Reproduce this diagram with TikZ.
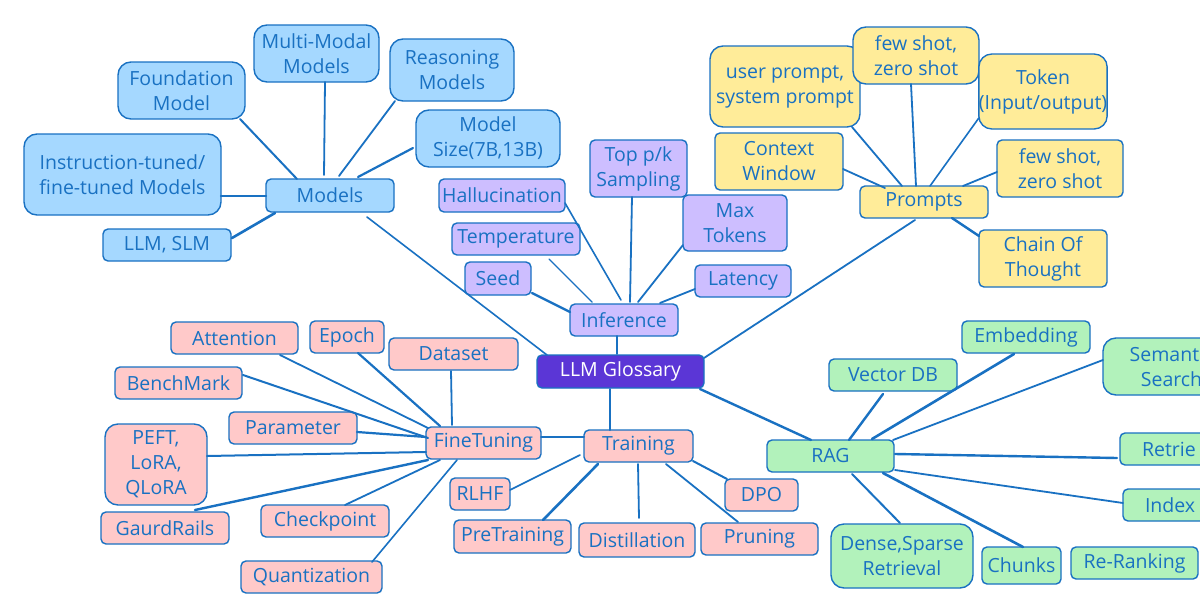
\documentclass[tikz,border=0pt]{standalone}
\usepackage{fontspec}
\setmainfont{Open Sans}
\definecolor{inkblue}{HTML}{1971C2}
\definecolor{fblue}{HTML}{A5D8FF}
\definecolor{fpurple}{HTML}{CDBEFF}
\definecolor{fyellow}{HTML}{FFEC99}
\definecolor{fred}{HTML}{FFC9C9}
\definecolor{fgreen}{HTML}{B2F2BB}
\definecolor{fcore}{HTML}{5B36D6}
\tikzset{
  box/.style={draw=inkblue,line width=1.4pt,rounded corners=5pt,align=center,inner sep=0pt,outer sep=0pt,
    text=inkblue,font=\fontsize{19.5}{25}\selectfont},
  big/.style={rounded corners=13pt},
  bluebox/.style={box,fill=fblue},
  purplebox/.style={box,fill=fpurple},
  yellowbox/.style={box,fill=fyellow},
  redbox/.style={box,fill=fred},
  greenbox/.style={box,fill=fgreen},
  corebox/.style={box,fill=fcore,text=white},
  link/.style={draw=inkblue,line cap=round},
}
\newcommand{\bx}[7][]{%  name x1 y1 x2 y2 style text
  \pgfmathsetmacro{\cxx}{(#3+#5)/2}\pgfmathsetmacro{\cyy}{(#4+#6)/2}%
  \pgfmathsetmacro{\www}{#5-#3}\pgfmathsetmacro{\hhh}{#6-#4}%
  \node[#1,minimum width=\www pt,minimum height=\hhh pt] (#2) at (\cxx,\cyy) {#7};}
\newcommand{\lnk}[5]{\draw[link,line width=#1pt] ([shift={(#3)}]#2.north west) -- ([shift={(#5)}]#4.north west);}
\begin{document}
\begin{tikzpicture}[x=1pt,y=-1pt]
\useasboundingbox (0,0) rectangle (1200,600);
\clip (0,0) rectangle (1200,600);
\fill[white] (0,0) rectangle (1200,600);
% models
\bx[bluebox,big]{multi}{254}{25}{379}{82}{Multi-Modal\\Models}
\bx[bluebox,big]{foundation}{118}{62}{245}{119}{Foundation\\Model}
\bx[bluebox,big]{reasoning}{390}{39}{514}{101}{Reasoning\\Models}
\bx[bluebox,big]{msize}{416}{110}{560}{167}{Model\\Size(7B,13B)}
\bx[bluebox,big]{instr}{24}{134}{221}{215}{Instruction-tuned/\\fine-tuned Models}
\bx[bluebox]{models}{266}{179}{394}{212}{Models}
\bx[bluebox]{llm}{103}{229}{231}{261}{LLM, SLM}
% inference
\bx[purplebox]{hall}{439}{179}{565}{212}{Hallucination}
\bx[purplebox]{temp}{452}{223}{580}{255}{Temperature}
\bx[purplebox]{seed}{465}{262}{531}{295}{Seed}
\bx[purplebox]{topk}{590}{140}{687}{197}{Top p/k\\Sampling}
\bx[purplebox]{maxt}{683}{195}{787}{251}{Max\\Tokens}
\bx[purplebox]{lat}{695}{265}{791}{297}{Latency}
\bx[purplebox]{inf}{570}{304}{678}{336}{Inference}
% core
\bx[corebox]{gloss}{537}{355}{704}{388}{LLM Glossary}
% prompts
\bx[yellowbox]{prompts}{860}{186}{988}{218}{Prompts}
\bx[yellowbox,big]{user}{710}{46}{860}{127}{user prompt,\\system prompt}
\bx[yellowbox,big]{fewa}{853}{27}{979}{84}{few shot,\\zero shot}
\bx[yellowbox,big]{token}{979}{54}{1107}{129}{Token\\(Input/output)}
\bx[yellowbox]{context}{715}{133}{843}{190}{Context\\Window}
\bx[yellowbox]{fewb}{997}{140}{1123}{197}{few shot,\\zero shot}
\bx[yellowbox]{chain}{979}{230}{1107}{287}{Chain Of\\Thought}
% rag
\bx[greenbox]{rag}{767}{440}{894}{472}{RAG}
\bx[greenbox]{vec}{829}{359}{957}{391}{Vector DB}
\bx[greenbox]{emb}{962}{321}{1090}{353}{Embedding}
\bx[greenbox,big]{sem}{1103}{338}{1240}{395}{Semantic\\Search}
\bx[greenbox,anchor=center]{retr}{1120}{433}{1240}{465}{\makebox[120pt][l]{\hspace{22pt}Retrie}}
\bx[greenbox]{index}{1123}{489}{1240}{521}{\makebox[117pt][l]{\hspace{22pt}Index}}
\bx[greenbox,big]{dense}{831}{524}{973}{588}{Dense,Sparse\\Retrieval}
\bx[greenbox]{chunks}{982}{547}{1061}{584}{Chunks}
\bx[greenbox]{rerank}{1071}{547}{1198}{579}{Re-Ranking}
% training
\bx[redbox]{training}{584}{430}{693}{462}{Training}
\bx[redbox]{dpo}{725}{479}{798}{511}{DPO}
\bx[redbox]{prun}{701}{523}{818}{555}{Pruning}
\bx[redbox]{dist}{579}{523}{695}{557}{Distillation}
\bx[redbox]{pre}{454}{520}{571}{553}{PreTraining}
\bx[redbox]{rlhf}{450}{478}{510}{510}{RLHF}
% fine tuning
\bx[redbox]{fine}{426}{427}{541}{459}{FineTuning}
\bx[redbox]{data}{389}{338}{518}{370}{Dataset}
\bx[redbox]{epoch}{310}{321}{384}{353}{Epoch}
\bx[redbox]{att}{171}{322}{298}{354}{Attention}
\bx[redbox]{bench}{115}{367}{242}{399}{BenchMark}
\bx[redbox]{param}{229}{412}{357}{444}{Parameter}
\bx[redbox,big]{peft}{105}{424}{207}{505}{PEFT,\\LoRA,\\QLoRA}
\bx[redbox]{gaurd}{101}{512}{229}{544}{GaurdRails}
\bx[redbox]{check}{261}{505}{389}{537}{Checkpoint}
\bx[redbox]{quant}{241}{561}{382}{593}{Quantization}
% connectors
\lnk{2}{foundation}{122,57}{models}{31,0}
\lnk{1.8}{multi}{71,57}{models}{58,-4}
\lnk{1.8}{reasoning}{5,62}{models}{73,-3}
\lnk{2.2}{msize}{-3,38}{models}{92,-2}
\lnk{2.4}{instr}{197,62}{models}{0,17}
\lnk{2.6}{llm}{129,9}{models}{9,34}
\lnk{1.6}{models}{101,38}{gloss}{10,0}
\lnk{1.6}{hall}{126,24}{inf}{51,-4}
\lnk{1.4}{temp}{97,36}{inf}{22,-2}
\lnk{2.4}{seed}{67,31}{inf}{0,8}
\lnk{1.8}{topk}{42,57}{inf}{60,-2}
\lnk{1.8}{maxt}{0,50}{inf}{68,-2}
\lnk{1.8}{lat}{0,24}{inf}{90,-1}
\lnk{1.8}{inf}{47,32}{gloss}{80,-1}
\lnk{1.8}{user}{142,81}{prompts}{42,0}
\lnk{1.8}{fewa}{58,57}{prompts}{56,0}
\lnk{1.6}{token}{0,64}{prompts}{70,0}
\lnk{1.8}{context}{128,36}{prompts}{25,2}
\lnk{1.8}{fewb}{0,32}{prompts}{103,0}
\lnk{2.4}{chain}{0,6}{prompts}{92,32}
\lnk{1.8}{prompts}{55,34}{gloss}{167,3}
\lnk{2.4}{gloss}{163,34}{rag}{44,0}
\lnk{2}{gloss}{73,34}{training}{26,0}
\lnk{2}{fine}{115,10}{training}{0,7}
\lnk{2.4}{vec}{54,35}{rag}{82,0}
\lnk{2.6}{emb}{52,33}{rag}{105,-1}
\lnk{1.8}{sem}{0,22}{rag}{126,0}
\lnk{2.4}{retr}{-3,25}{rag}{128,14}
\lnk{1.8}{index}{0,14}{rag}{128,30}
\lnk{2}{dense}{69,-1}{rag}{85,34}
\lnk{2.6}{chunks}{41,0}{rag}{116,33}
\lnk{2}{dpo}{2,0}{training}{109,31}
\lnk{1.8}{prun}{37,-1}{training}{82,34}
\lnk{1.8}{dist}{60,-5}{training}{54,34}
\lnk{2.6}{pre}{89,0}{training}{14,34}
\lnk{1.6}{rlhf}{60,12}{training}{-4,25}
\lnk{1.8}{data}{62,33}{fine}{26,-2}
\lnk{2.2}{epoch}{48,32}{fine}{14,-1}
\lnk{1.8}{att}{109,33}{fine}{2,1}
\lnk{2}{bench}{128,8}{fine}{2,11}
\lnk{2.2}{param}{128,20}{fine}{0,10}
\lnk{2}{peft}{102,32}{fine}{0,25}
\lnk{2.4}{gaurd}{94,-2}{fine}{2,33}
\lnk{1.8}{check}{84,0}{fine}{14,33}
\lnk{1.6}{quant}{131,1}{fine}{31,33}
\end{tikzpicture}
\end{document}
